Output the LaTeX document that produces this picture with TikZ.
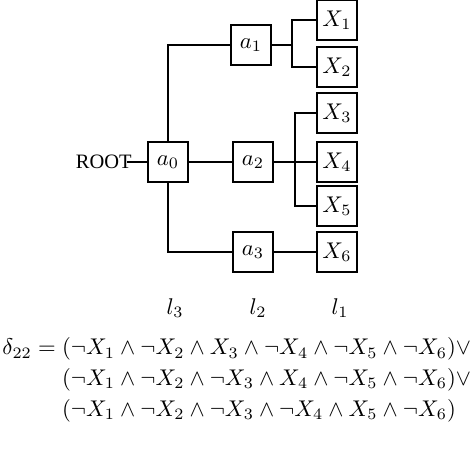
\documentclass[tikz,border=0pt]{standalone}
\usepackage{amsmath}
\usepackage{fontspec}
\newfontfamily\rootfont{Liberation Serif}
\usetikzlibrary{positioning}

\begin{document}
\begin{tikzpicture}[x=0.44pt, y=-0.44pt,
    blk/.style={draw, line width=0.9pt, minimum size=17.6pt, inner sep=0pt},
    wire/.style={line width=0.9pt},
  ]
  \useasboundingbox (0,0) rectangle (474,450);
  % inner nodes
  \node[blk] (a0) at (168,162) {$a_0$};
  \node[blk] (a1) at (251,45) {$a_1$};
  \node[blk] (a2) at (253,162) {$a_2$};
  \node[blk] (a3) at (253,252) {$a_3$};
  % leaves
  \node[blk] (x1) at (337,20) {$X_1$};
  \node[blk] (x2) at (337,67) {$X_2$};
  \node[blk] (x3) at (337,113) {$X_3$};
  \node[blk] (x4) at (337,162) {$X_4$};
  \node[blk] (x5) at (337,206) {$X_5$};
  \node[blk] (x6) at (337,252) {$X_6$};
  \node[inner sep=0pt, anchor=east] (root) at (132,162) {\rootfont\small ROOT};
  % junctions
  \coordinate (j1) at (292,45);
  \coordinate (j2) at (295,162);

  \draw[wire] ([xshift=-2pt]root.east) -- (a0.west);
  \draw[wire] (a0.north) |- (a1.west);
  \draw[wire] (a0) -- (a2);
  \draw[wire] (a0.south) |- (a3.west);
  \draw[wire] (a1) -- (j1);
  \draw[wire] (x1.west) -| (j1) |- (x2.west);
  \draw[wire] (a2) -- (x4);
  \draw[wire] (x3.west) -| (j2) |- (x5.west);
  \draw[wire] (a3) -- (x6);

  % levels
  \node (l3) at (175,308) {$l_3$};
  \node (l2) at (258,308) {$l_2$};
  \node (l1) at (340,308) {$l_1$};

  \node[anchor=west, inner sep=0pt] (eq) at (2,380) {\setlength{\jot}{1.5pt}$\begin{aligned}
    \delta_{22} = {} & (\neg X_1 \wedge \neg X_2 \wedge X_3 \wedge \neg X_4 \wedge \neg X_5 \wedge \neg X_6) \vee\\
    & (\neg X_1 \wedge \neg X_2 \wedge \neg X_3 \wedge X_4 \wedge \neg X_5 \wedge \neg X_6) \vee\\
    & (\neg X_1 \wedge \neg X_2 \wedge \neg X_3 \wedge \neg X_4 \wedge X_5 \wedge \neg X_6)
  \end{aligned}$};
\end{tikzpicture}
\end{document}
